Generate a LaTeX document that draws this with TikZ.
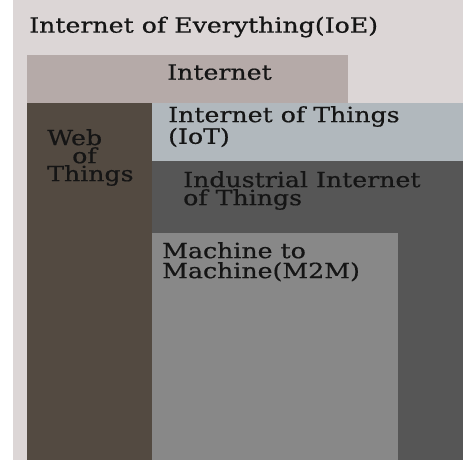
\documentclass[tikz,border=0pt]{standalone}
\usepackage{fontspec}
\setmainfont[FakeStretch=1.2,FakeBold=0.6]{DejaVu Serif}
\usepackage{xcolor}
\usepackage{tikz}
\usetikzlibrary{positioning}
\definecolor{ioecol}{HTML}{DCD6D6}
\definecolor{netcol}{HTML}{B5AAA8}
\definecolor{wotcol}{HTML}{534A41}
\definecolor{iotcol}{HTML}{B1B8BD}
\definecolor{iiotcol}{HTML}{565656}
\definecolor{mmcol}{HTML}{888888}
\definecolor{txtcol}{HTML}{151515}

\begin{document}
\begin{tikzpicture}[x=1pt,y=-1pt,
  lbl/.style={inner sep=0pt,anchor=north west,align=left,text=txtcol,
    font=\fontsize{21}{18}\selectfont}]
\useasboundingbox (0,0) rectangle (474,474);
\fill[white] (0,0) rectangle (474,474);
% nested areas
\fill[ioecol] (13,0) rectangle (463,460);
\fill[netcol] (27,55) rectangle (348,103);
\fill[wotcol] (27,103) rectangle (152,460);
\fill[iotcol] (152,103) rectangle (463,161);
\fill[iiotcol] (152,161) rectangle (463,460);
\fill[mmcol] (152,233) rectangle (398,460);
% labels
\node[lbl] (ioe) at (29,16.5) {Internet of Everything(IoE)};
\node[lbl] (net) at (167,64.2) {Internet};
\node[lbl] (iot) at (168,106) {Internet of Things\\(IoT)};
\node[lbl] (wot) at (47,129) {Web\\\hspace*{25pt}of\\Things};
\node[lbl] (iiot) at (183,171) {Industrial Internet\\of Things};
\node[lbl,font=\fontsize{21}{20}\selectfont] (mm) at (162,242) {Machine to\\Machine(M2M)};
\end{tikzpicture}
\end{document}
